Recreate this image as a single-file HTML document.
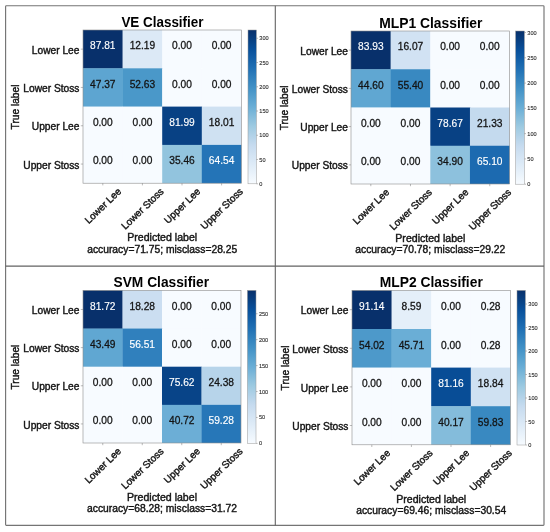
<!DOCTYPE html>
<html><head><meta charset="utf-8"><title>Confusion matrices</title>
<style>html,body{margin:0;padding:0;background:#fff;}svg{display:block;}</style></head>
<body>
<svg width="550" height="532" viewBox="0 0 550 532">
<style>text{font-family:"Liberation Sans",sans-serif;font-size:10.2px}.k{fill:#141414;stroke:#141414;stroke-width:0.4}.w{fill:#fff;stroke:#fff;stroke-width:.15}.c{stroke-width:.28}.m{text-anchor:middle}.e{text-anchor:end}.ti{font-size:15px;font-weight:bold;fill:#000;text-anchor:middle}.cb{font-size:5.6px;fill:#2a2a2a;stroke:#2a2a2a;stroke-width:.1}.tk{stroke:#777;stroke-width:.5}</style>
<defs>
<linearGradient id="g0" x1="0" y1="0" x2="0" y2="1"><stop offset="0%" stop-color="#08306b"/><stop offset="6.25%" stop-color="#084082"/><stop offset="12.5%" stop-color="#08509b"/><stop offset="18.75%" stop-color="#1460a8"/><stop offset="25%" stop-color="#2070b4"/><stop offset="31.25%" stop-color="#3181bd"/><stop offset="37.5%" stop-color="#4191c6"/><stop offset="43.75%" stop-color="#56a0ce"/><stop offset="50%" stop-color="#6aaed6"/><stop offset="56.25%" stop-color="#84bcdb"/><stop offset="62.5%" stop-color="#9dcae1"/><stop offset="68.75%" stop-color="#b2d2e8"/><stop offset="75%" stop-color="#c6dbef"/><stop offset="81.25%" stop-color="#d2e3f3"/><stop offset="87.5%" stop-color="#deebf7"/><stop offset="93.75%" stop-color="#eaf3fb"/><stop offset="100%" stop-color="#f7fbff"/></linearGradient>
<linearGradient id="g1" x1="0" y1="0" x2="0" y2="1"><stop offset="0%" stop-color="#08306b"/><stop offset="6.25%" stop-color="#084082"/><stop offset="12.5%" stop-color="#08509b"/><stop offset="18.75%" stop-color="#1460a8"/><stop offset="25%" stop-color="#2070b4"/><stop offset="31.25%" stop-color="#3181bd"/><stop offset="37.5%" stop-color="#4191c6"/><stop offset="43.75%" stop-color="#56a0ce"/><stop offset="50%" stop-color="#6aaed6"/><stop offset="56.25%" stop-color="#84bcdb"/><stop offset="62.5%" stop-color="#9dcae1"/><stop offset="68.75%" stop-color="#b2d2e8"/><stop offset="75%" stop-color="#c6dbef"/><stop offset="81.25%" stop-color="#d2e3f3"/><stop offset="87.5%" stop-color="#deebf7"/><stop offset="93.75%" stop-color="#eaf3fb"/><stop offset="100%" stop-color="#f7fbff"/></linearGradient>
<linearGradient id="g2" x1="0" y1="0" x2="0" y2="1"><stop offset="0%" stop-color="#08306b"/><stop offset="6.25%" stop-color="#084082"/><stop offset="12.5%" stop-color="#08509b"/><stop offset="18.75%" stop-color="#1460a8"/><stop offset="25%" stop-color="#2070b4"/><stop offset="31.25%" stop-color="#3181bd"/><stop offset="37.5%" stop-color="#4191c6"/><stop offset="43.75%" stop-color="#56a0ce"/><stop offset="50%" stop-color="#6aaed6"/><stop offset="56.25%" stop-color="#84bcdb"/><stop offset="62.5%" stop-color="#9dcae1"/><stop offset="68.75%" stop-color="#b2d2e8"/><stop offset="75%" stop-color="#c6dbef"/><stop offset="81.25%" stop-color="#d2e3f3"/><stop offset="87.5%" stop-color="#deebf7"/><stop offset="93.75%" stop-color="#eaf3fb"/><stop offset="100%" stop-color="#f7fbff"/></linearGradient>
<linearGradient id="g3" x1="0" y1="0" x2="0" y2="1"><stop offset="0%" stop-color="#08306b"/><stop offset="6.25%" stop-color="#084082"/><stop offset="12.5%" stop-color="#08509b"/><stop offset="18.75%" stop-color="#1460a8"/><stop offset="25%" stop-color="#2070b4"/><stop offset="31.25%" stop-color="#3181bd"/><stop offset="37.5%" stop-color="#4191c6"/><stop offset="43.75%" stop-color="#56a0ce"/><stop offset="50%" stop-color="#6aaed6"/><stop offset="56.25%" stop-color="#84bcdb"/><stop offset="62.5%" stop-color="#9dcae1"/><stop offset="68.75%" stop-color="#b2d2e8"/><stop offset="75%" stop-color="#c6dbef"/><stop offset="81.25%" stop-color="#d2e3f3"/><stop offset="87.5%" stop-color="#deebf7"/><stop offset="93.75%" stop-color="#eaf3fb"/><stop offset="100%" stop-color="#f7fbff"/></linearGradient>
</defs>
<rect x="0" y="0" width="550" height="532" fill="#ffffff"/>
<g style="filter:blur(0.35px)">
<g>
<rect x="83.00" y="30.00" width="39.90" height="38.60" fill="#08306b"/>
<rect x="122.60" y="30.00" width="39.90" height="38.60" fill="#dce9f6"/>
<rect x="162.20" y="30.00" width="39.90" height="38.60" fill="#f7fbff"/>
<rect x="201.80" y="30.00" width="39.60" height="38.60" fill="#f7fbff"/>
<rect x="83.00" y="68.30" width="39.90" height="38.60" fill="#5da5d1"/>
<rect x="122.60" y="68.30" width="39.90" height="38.60" fill="#4a98c9"/>
<rect x="162.20" y="68.30" width="39.90" height="38.60" fill="#f7fbff"/>
<rect x="201.80" y="68.30" width="39.60" height="38.60" fill="#f7fbff"/>
<rect x="83.00" y="106.60" width="39.90" height="38.60" fill="#f7fbff"/>
<rect x="122.60" y="106.60" width="39.90" height="38.60" fill="#f7fbff"/>
<rect x="162.20" y="106.60" width="39.90" height="38.60" fill="#084184"/>
<rect x="201.80" y="106.60" width="39.60" height="38.60" fill="#cfe1f2"/>
<rect x="83.00" y="144.90" width="39.90" height="38.30" fill="#f7fbff"/>
<rect x="122.60" y="144.90" width="39.90" height="38.30" fill="#f7fbff"/>
<rect x="162.20" y="144.90" width="39.90" height="38.30" fill="#92c4de"/>
<rect x="201.80" y="144.90" width="39.60" height="38.30" fill="#2474b7"/>
<rect x="83.00" y="30.00" width="158.40" height="153.20" fill="none" stroke="#8c8c8c" stroke-width="0.6"/>
<line class="tk" x1="80.80" y1="49.15" x2="83.00" y2="49.15"/>
<line class="tk" x1="102.80" y1="183.20" x2="102.80" y2="185.40"/>
<line class="tk" x1="80.80" y1="87.45" x2="83.00" y2="87.45"/>
<line class="tk" x1="142.40" y1="183.20" x2="142.40" y2="185.40"/>
<line class="tk" x1="80.80" y1="125.75" x2="83.00" y2="125.75"/>
<line class="tk" x1="182.00" y1="183.20" x2="182.00" y2="185.40"/>
<line class="tk" x1="80.80" y1="164.05" x2="83.00" y2="164.05"/>
<line class="tk" x1="221.60" y1="183.20" x2="221.60" y2="185.40"/>
<text class="w m" x="102.80" y="49.45">87.81</text>
<text class="k m c" x="142.40" y="49.45">12.19</text>
<text class="k m c" x="182.00" y="49.45">0.00</text>
<text class="k m c" x="221.60" y="49.45">0.00</text>
<text class="k m c" x="102.80" y="87.75">47.37</text>
<text class="k m c" x="142.40" y="87.75">52.63</text>
<text class="k m c" x="182.00" y="87.75">0.00</text>
<text class="k m c" x="221.60" y="87.75">0.00</text>
<text class="k m c" x="102.80" y="126.05">0.00</text>
<text class="k m c" x="142.40" y="126.05">0.00</text>
<text class="w m" x="182.00" y="126.05">81.99</text>
<text class="k m c" x="221.60" y="126.05">18.01</text>
<text class="k m c" x="102.80" y="164.35">0.00</text>
<text class="k m c" x="142.40" y="164.35">0.00</text>
<text class="k m c" x="182.00" y="164.35">35.46</text>
<text class="w m" x="221.60" y="164.35">64.54</text>
<text class="k e" x="79.40" y="53.75">Lower Lee</text>
<text class="k e" x="79.40" y="92.05">Lower Stoss</text>
<text class="k e" x="79.40" y="130.35">Upper Lee</text>
<text class="k e" x="79.40" y="168.65">Upper Stoss</text>
<text class="k m" style="font-size:9.9px" transform="translate(102.80,205.64) rotate(-44)" y="3.56">Lower Lee</text>
<text class="k m" style="font-size:9.9px" transform="translate(142.40,208.56) rotate(-44)" y="3.56">Lower Stoss</text>
<text class="k m" style="font-size:9.9px" transform="translate(182.00,205.64) rotate(-44)" y="3.56">Upper Lee</text>
<text class="k m" style="font-size:9.9px" transform="translate(221.60,208.56) rotate(-44)" y="3.56">Upper Stoss</text>
<text class="k m" transform="translate(19.10,107.00) rotate(-90)">True label</text>
<text class="k m" x="162.20" y="241.20" textLength="70" lengthAdjust="spacingAndGlyphs">Predicted label</text>
<text class="k m" x="162.20" y="252.60" textLength="150" lengthAdjust="spacingAndGlyphs">accuracy=71.75; misclass=28.25</text>
<text class="ti" x="162.45" y="26.90" textLength="82.1" lengthAdjust="spacingAndGlyphs">VE Classifier</text>
<rect x="248.00" y="30.00" width="8.40" height="153.80" fill="url(#g0)" stroke="#999" stroke-width="0.5"/>
<line class="tk" x1="256.40" y1="183.80" x2="258.00" y2="183.80"/>
<text class="cb" x="259.30" y="185.80">0</text>
<line class="tk" x1="256.40" y1="159.54" x2="258.00" y2="159.54"/>
<text class="cb" x="259.30" y="161.54">50</text>
<line class="tk" x1="256.40" y1="135.28" x2="258.00" y2="135.28"/>
<text class="cb" x="259.30" y="137.28">100</text>
<line class="tk" x1="256.40" y1="111.02" x2="258.00" y2="111.02"/>
<text class="cb" x="259.30" y="113.02">150</text>
<line class="tk" x1="256.40" y1="86.77" x2="258.00" y2="86.77"/>
<text class="cb" x="259.30" y="88.77">200</text>
<line class="tk" x1="256.40" y1="62.51" x2="258.00" y2="62.51"/>
<text class="cb" x="259.30" y="64.51">250</text>
<line class="tk" x1="256.40" y1="38.25" x2="258.00" y2="38.25"/>
<text class="cb" x="259.30" y="40.25">300</text>
</g>
<g>
<rect x="351.00" y="31.00" width="39.95" height="38.55" fill="#08306b"/>
<rect x="390.65" y="31.00" width="39.95" height="38.55" fill="#d1e2f3"/>
<rect x="430.30" y="31.00" width="39.95" height="38.55" fill="#f7fbff"/>
<rect x="469.95" y="31.00" width="39.65" height="38.55" fill="#f7fbff"/>
<rect x="351.00" y="69.25" width="39.95" height="38.55" fill="#60a7d2"/>
<rect x="390.65" y="69.25" width="39.95" height="38.55" fill="#3989c1"/>
<rect x="430.30" y="69.25" width="39.95" height="38.55" fill="#f7fbff"/>
<rect x="469.95" y="69.25" width="39.65" height="38.55" fill="#f7fbff"/>
<rect x="351.00" y="107.50" width="39.95" height="38.55" fill="#f7fbff"/>
<rect x="390.65" y="107.50" width="39.95" height="38.55" fill="#f7fbff"/>
<rect x="430.30" y="107.50" width="39.95" height="38.55" fill="#084184"/>
<rect x="469.95" y="107.50" width="39.65" height="38.55" fill="#c4daee"/>
<rect x="351.00" y="145.75" width="39.95" height="38.25" fill="#f7fbff"/>
<rect x="390.65" y="145.75" width="39.95" height="38.25" fill="#f7fbff"/>
<rect x="430.30" y="145.75" width="39.95" height="38.25" fill="#8dc1dd"/>
<rect x="469.95" y="145.75" width="39.65" height="38.25" fill="#1c6ab0"/>
<rect x="351.00" y="31.00" width="158.60" height="153.00" fill="none" stroke="#8c8c8c" stroke-width="0.6"/>
<line class="tk" x1="348.80" y1="50.12" x2="351.00" y2="50.12"/>
<line class="tk" x1="370.82" y1="184.00" x2="370.82" y2="186.20"/>
<line class="tk" x1="348.80" y1="88.38" x2="351.00" y2="88.38"/>
<line class="tk" x1="410.48" y1="184.00" x2="410.48" y2="186.20"/>
<line class="tk" x1="348.80" y1="126.62" x2="351.00" y2="126.62"/>
<line class="tk" x1="450.12" y1="184.00" x2="450.12" y2="186.20"/>
<line class="tk" x1="348.80" y1="164.88" x2="351.00" y2="164.88"/>
<line class="tk" x1="489.78" y1="184.00" x2="489.78" y2="186.20"/>
<text class="w m" x="370.82" y="50.42">83.93</text>
<text class="k m c" x="410.48" y="50.42">16.07</text>
<text class="k m c" x="450.12" y="50.42">0.00</text>
<text class="k m c" x="489.78" y="50.42">0.00</text>
<text class="k m c" x="370.82" y="88.67">44.60</text>
<text class="k m c" x="410.48" y="88.67">55.40</text>
<text class="k m c" x="450.12" y="88.67">0.00</text>
<text class="k m c" x="489.78" y="88.67">0.00</text>
<text class="k m c" x="370.82" y="126.92">0.00</text>
<text class="k m c" x="410.48" y="126.92">0.00</text>
<text class="w m" x="450.12" y="126.92">78.67</text>
<text class="k m c" x="489.78" y="126.92">21.33</text>
<text class="k m c" x="370.82" y="165.18">0.00</text>
<text class="k m c" x="410.48" y="165.18">0.00</text>
<text class="k m c" x="450.12" y="165.18">34.90</text>
<text class="w m" x="489.78" y="165.18">65.10</text>
<text class="k e" x="347.90" y="54.73">Lower Lee</text>
<text class="k e" x="347.90" y="92.97">Lower Stoss</text>
<text class="k e" x="347.90" y="131.22">Upper Lee</text>
<text class="k e" x="347.90" y="169.47">Upper Stoss</text>
<text class="k m" style="font-size:9.9px" transform="translate(370.82,206.44) rotate(-44)" y="3.56">Lower Lee</text>
<text class="k m" style="font-size:9.9px" transform="translate(410.48,209.36) rotate(-44)" y="3.56">Lower Stoss</text>
<text class="k m" style="font-size:9.9px" transform="translate(450.12,206.44) rotate(-44)" y="3.56">Upper Lee</text>
<text class="k m" style="font-size:9.9px" transform="translate(489.78,209.36) rotate(-44)" y="3.56">Upper Stoss</text>
<text class="k m" transform="translate(287.60,107.90) rotate(-90)">True label</text>
<text class="k m" x="430.30" y="241.60" textLength="70" lengthAdjust="spacingAndGlyphs">Predicted label</text>
<text class="k m" x="430.30" y="253.00" textLength="150" lengthAdjust="spacingAndGlyphs">accuracy=70.78; misclass=29.22</text>
<text class="ti" x="430.80" y="27.90" textLength="103.2" lengthAdjust="spacingAndGlyphs">MLP1 Classifier</text>
<rect x="515.60" y="31.00" width="8.80" height="153.20" fill="url(#g1)" stroke="#999" stroke-width="0.5"/>
<line class="tk" x1="524.40" y1="184.20" x2="526.00" y2="184.20"/>
<text class="cb" x="527.30" y="186.20">0</text>
<line class="tk" x1="524.40" y1="158.92" x2="526.00" y2="158.92"/>
<text class="cb" x="527.30" y="160.92">50</text>
<line class="tk" x1="524.40" y1="133.64" x2="526.00" y2="133.64"/>
<text class="cb" x="527.30" y="135.64">100</text>
<line class="tk" x1="524.40" y1="108.36" x2="526.00" y2="108.36"/>
<text class="cb" x="527.30" y="110.36">150</text>
<line class="tk" x1="524.40" y1="83.08" x2="526.00" y2="83.08"/>
<text class="cb" x="527.30" y="85.08">200</text>
<line class="tk" x1="524.40" y1="57.80" x2="526.00" y2="57.80"/>
<text class="cb" x="527.30" y="59.80">250</text>
<line class="tk" x1="524.40" y1="32.52" x2="526.00" y2="32.52"/>
<text class="cb" x="527.30" y="34.52">300</text>
</g>
<g>
<rect x="83.00" y="290.40" width="39.80" height="38.45" fill="#08306b"/>
<rect x="122.50" y="290.40" width="39.80" height="38.45" fill="#cbdef1"/>
<rect x="162.00" y="290.40" width="39.80" height="38.45" fill="#f7fbff"/>
<rect x="201.50" y="290.40" width="39.50" height="38.45" fill="#f7fbff"/>
<rect x="83.00" y="328.55" width="39.80" height="38.45" fill="#60a7d2"/>
<rect x="122.50" y="328.55" width="39.80" height="38.45" fill="#3080bd"/>
<rect x="162.00" y="328.55" width="39.80" height="38.45" fill="#f7fbff"/>
<rect x="201.50" y="328.55" width="39.50" height="38.45" fill="#f7fbff"/>
<rect x="83.00" y="366.70" width="39.80" height="38.45" fill="#f7fbff"/>
<rect x="122.50" y="366.70" width="39.80" height="38.45" fill="#f7fbff"/>
<rect x="162.00" y="366.70" width="39.80" height="38.45" fill="#084488"/>
<rect x="201.50" y="366.70" width="39.50" height="38.45" fill="#b7d4ea"/>
<rect x="83.00" y="404.85" width="39.80" height="38.15" fill="#f7fbff"/>
<rect x="122.50" y="404.85" width="39.80" height="38.15" fill="#f7fbff"/>
<rect x="162.00" y="404.85" width="39.80" height="38.15" fill="#6caed6"/>
<rect x="201.50" y="404.85" width="39.50" height="38.15" fill="#2777b8"/>
<rect x="83.00" y="290.40" width="158.00" height="152.60" fill="none" stroke="#8c8c8c" stroke-width="0.6"/>
<line class="tk" x1="80.80" y1="309.47" x2="83.00" y2="309.47"/>
<line class="tk" x1="102.75" y1="443.00" x2="102.75" y2="445.20"/>
<line class="tk" x1="80.80" y1="347.62" x2="83.00" y2="347.62"/>
<line class="tk" x1="142.25" y1="443.00" x2="142.25" y2="445.20"/>
<line class="tk" x1="80.80" y1="385.77" x2="83.00" y2="385.77"/>
<line class="tk" x1="181.75" y1="443.00" x2="181.75" y2="445.20"/>
<line class="tk" x1="80.80" y1="423.93" x2="83.00" y2="423.93"/>
<line class="tk" x1="221.25" y1="443.00" x2="221.25" y2="445.20"/>
<text class="w m" x="102.75" y="309.77">81.72</text>
<text class="k m c" x="142.25" y="309.77">18.28</text>
<text class="k m c" x="181.75" y="309.77">0.00</text>
<text class="k m c" x="221.25" y="309.77">0.00</text>
<text class="k m c" x="102.75" y="347.93">43.49</text>
<text class="w m" x="142.25" y="347.93">56.51</text>
<text class="k m c" x="181.75" y="347.93">0.00</text>
<text class="k m c" x="221.25" y="347.93">0.00</text>
<text class="k m c" x="102.75" y="386.07">0.00</text>
<text class="k m c" x="142.25" y="386.07">0.00</text>
<text class="w m" x="181.75" y="386.07">75.62</text>
<text class="k m c" x="221.25" y="386.07">24.38</text>
<text class="k m c" x="102.75" y="424.23">0.00</text>
<text class="k m c" x="142.25" y="424.23">0.00</text>
<text class="k m c" x="181.75" y="424.23">40.72</text>
<text class="w m" x="221.25" y="424.23">59.28</text>
<text class="k e" x="79.40" y="314.07">Lower Lee</text>
<text class="k e" x="79.40" y="352.23">Lower Stoss</text>
<text class="k e" x="79.40" y="390.38">Upper Lee</text>
<text class="k e" x="79.40" y="428.53">Upper Stoss</text>
<text class="k m" style="font-size:9.9px" transform="translate(102.75,465.44) rotate(-44)" y="3.56">Lower Lee</text>
<text class="k m" style="font-size:9.9px" transform="translate(142.25,468.36) rotate(-44)" y="3.56">Lower Stoss</text>
<text class="k m" style="font-size:9.9px" transform="translate(181.75,465.44) rotate(-44)" y="3.56">Upper Lee</text>
<text class="k m" style="font-size:9.9px" transform="translate(221.25,468.36) rotate(-44)" y="3.56">Upper Stoss</text>
<text class="k m" transform="translate(18.70,367.10) rotate(-90)">True label</text>
<text class="k m" x="162.00" y="501.00" textLength="70" lengthAdjust="spacingAndGlyphs">Predicted label</text>
<text class="k m" x="162.00" y="512.40" textLength="150" lengthAdjust="spacingAndGlyphs">accuracy=68.28; misclass=31.72</text>
<text class="ti" x="161.30" y="287.30" textLength="95.6" lengthAdjust="spacingAndGlyphs">SVM Classifier</text>
<rect x="247.40" y="290.40" width="8.60" height="153.00" fill="url(#g2)" stroke="#999" stroke-width="0.5"/>
<line class="tk" x1="256.00" y1="443.40" x2="257.60" y2="443.40"/>
<text class="cb" x="258.90" y="445.40">0</text>
<line class="tk" x1="256.00" y1="417.47" x2="257.60" y2="417.47"/>
<text class="cb" x="258.90" y="419.47">50</text>
<line class="tk" x1="256.00" y1="391.54" x2="257.60" y2="391.54"/>
<text class="cb" x="258.90" y="393.54">100</text>
<line class="tk" x1="256.00" y1="365.60" x2="257.60" y2="365.60"/>
<text class="cb" x="258.90" y="367.60">150</text>
<line class="tk" x1="256.00" y1="339.67" x2="257.60" y2="339.67"/>
<text class="cb" x="258.90" y="341.67">200</text>
<line class="tk" x1="256.00" y1="313.74" x2="257.60" y2="313.74"/>
<text class="cb" x="258.90" y="315.74">250</text>
</g>
<g>
<rect x="352.00" y="290.40" width="39.90" height="38.90" fill="#08306b"/>
<rect x="391.60" y="290.40" width="39.90" height="38.90" fill="#e4eff9"/>
<rect x="431.20" y="290.40" width="39.90" height="38.90" fill="#f7fbff"/>
<rect x="470.80" y="290.40" width="39.60" height="38.90" fill="#f7fbff"/>
<rect x="352.00" y="329.00" width="39.90" height="38.90" fill="#4d99ca"/>
<rect x="391.60" y="329.00" width="39.90" height="38.90" fill="#6aaed6"/>
<rect x="431.20" y="329.00" width="39.90" height="38.90" fill="#f7fbff"/>
<rect x="470.80" y="329.00" width="39.60" height="38.90" fill="#f7fbff"/>
<rect x="352.00" y="367.60" width="39.90" height="38.90" fill="#f7fbff"/>
<rect x="391.60" y="367.60" width="39.90" height="38.90" fill="#f7fbff"/>
<rect x="431.20" y="367.60" width="39.90" height="38.90" fill="#084d96"/>
<rect x="470.80" y="367.60" width="39.60" height="38.90" fill="#cfe1f2"/>
<rect x="352.00" y="406.20" width="39.90" height="38.60" fill="#f7fbff"/>
<rect x="391.60" y="406.20" width="39.90" height="38.60" fill="#f7fbff"/>
<rect x="431.20" y="406.20" width="39.90" height="38.60" fill="#84bcdb"/>
<rect x="470.80" y="406.20" width="39.60" height="38.60" fill="#3989c1"/>
<rect x="352.00" y="290.40" width="158.40" height="154.40" fill="none" stroke="#8c8c8c" stroke-width="0.6"/>
<line class="tk" x1="349.80" y1="309.70" x2="352.00" y2="309.70"/>
<line class="tk" x1="371.80" y1="444.80" x2="371.80" y2="447.00"/>
<line class="tk" x1="349.80" y1="348.30" x2="352.00" y2="348.30"/>
<line class="tk" x1="411.40" y1="444.80" x2="411.40" y2="447.00"/>
<line class="tk" x1="349.80" y1="386.90" x2="352.00" y2="386.90"/>
<line class="tk" x1="451.00" y1="444.80" x2="451.00" y2="447.00"/>
<line class="tk" x1="349.80" y1="425.50" x2="352.00" y2="425.50"/>
<line class="tk" x1="490.60" y1="444.80" x2="490.60" y2="447.00"/>
<text class="w m" x="371.80" y="310.00">91.14</text>
<text class="k m c" x="411.40" y="310.00">8.59</text>
<text class="k m c" x="451.00" y="310.00">0.00</text>
<text class="k m c" x="490.60" y="310.00">0.28</text>
<text class="k m c" x="371.80" y="348.60">54.02</text>
<text class="k m c" x="411.40" y="348.60">45.71</text>
<text class="k m c" x="451.00" y="348.60">0.00</text>
<text class="k m c" x="490.60" y="348.60">0.28</text>
<text class="k m c" x="371.80" y="387.20">0.00</text>
<text class="k m c" x="411.40" y="387.20">0.00</text>
<text class="w m" x="451.00" y="387.20">81.16</text>
<text class="k m c" x="490.60" y="387.20">18.84</text>
<text class="k m c" x="371.80" y="425.80">0.00</text>
<text class="k m c" x="411.40" y="425.80">0.00</text>
<text class="k m c" x="451.00" y="425.80">40.17</text>
<text class="k m c" x="490.60" y="425.80">59.83</text>
<text class="k e" x="348.40" y="314.30">Lower Lee</text>
<text class="k e" x="348.40" y="352.90">Lower Stoss</text>
<text class="k e" x="348.40" y="391.50">Upper Lee</text>
<text class="k e" x="348.40" y="430.10">Upper Stoss</text>
<text class="k m" style="font-size:9.9px" transform="translate(371.80,467.24) rotate(-44)" y="3.56">Lower Lee</text>
<text class="k m" style="font-size:9.9px" transform="translate(411.40,470.16) rotate(-44)" y="3.56">Lower Stoss</text>
<text class="k m" style="font-size:9.9px" transform="translate(451.00,467.24) rotate(-44)" y="3.56">Upper Lee</text>
<text class="k m" style="font-size:9.9px" transform="translate(490.60,470.16) rotate(-44)" y="3.56">Upper Stoss</text>
<text class="k m" transform="translate(289.40,368.00) rotate(-90)">True label</text>
<text class="k m" x="431.20" y="502.80" textLength="70" lengthAdjust="spacingAndGlyphs">Predicted label</text>
<text class="k m" x="431.20" y="514.20" textLength="150" lengthAdjust="spacingAndGlyphs">accuracy=69.46; misclass=30.54</text>
<text class="ti" x="431.30" y="287.30" textLength="103.0" lengthAdjust="spacingAndGlyphs">MLP2 Classifier</text>
<rect x="517.00" y="290.40" width="8.40" height="154.60" fill="url(#g3)" stroke="#999" stroke-width="0.5"/>
<line class="tk" x1="525.40" y1="445.00" x2="527.00" y2="445.00"/>
<text class="cb" x="528.30" y="447.00">0</text>
<line class="tk" x1="525.40" y1="421.50" x2="527.00" y2="421.50"/>
<text class="cb" x="528.30" y="423.50">50</text>
<line class="tk" x1="525.40" y1="398.01" x2="527.00" y2="398.01"/>
<text class="cb" x="528.30" y="400.01">100</text>
<line class="tk" x1="525.40" y1="374.51" x2="527.00" y2="374.51"/>
<text class="cb" x="528.30" y="376.51">150</text>
<line class="tk" x1="525.40" y1="351.02" x2="527.00" y2="351.02"/>
<text class="cb" x="528.30" y="353.02">200</text>
<line class="tk" x1="525.40" y1="327.52" x2="527.00" y2="327.52"/>
<text class="cb" x="528.30" y="329.52">250</text>
<line class="tk" x1="525.40" y1="304.03" x2="527.00" y2="304.03"/>
<text class="cb" x="528.30" y="306.03">300</text>
</g>
<rect x="5.6" y="5.7" width="538.4" height="519.7" rx="0.8" fill="none" stroke="#747474" stroke-width="1.15"/>
<line x1="275.3" y1="5.7" x2="275.3" y2="525.4" stroke="#626262" stroke-width="1.1"/>
<line x1="5.6" y1="266.1" x2="544" y2="266.1" stroke="#626262" stroke-width="1.1"/>
</g>
</svg>
</body></html>
